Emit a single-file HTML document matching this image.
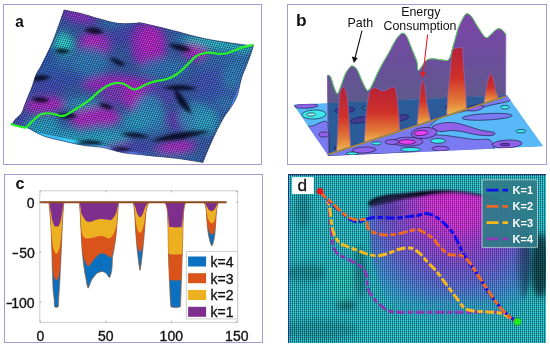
<!DOCTYPE html>
<html><head><meta charset="utf-8"><title>Figure</title>
<style>html,body{margin:0;padding:0;background:#fff;} svg{display:block;}</style></head>
<body><svg width="550" height="347" viewBox="0 0 550 347">
<defs>
<filter id="b3" x="-30%" y="-30%" width="160%" height="160%"><feGaussianBlur stdDeviation="3"/></filter><filter id="b25" x="-30%" y="-30%" width="160%" height="160%"><feGaussianBlur stdDeviation="2.2"/></filter>
<filter id="b2" x="-30%" y="-30%" width="160%" height="160%"><feGaussianBlur stdDeviation="1.6"/></filter><filter id="b35" x="-30%" y="-30%" width="160%" height="160%"><feGaussianBlur stdDeviation="3.6"/></filter><filter id="b12" x="-30%" y="-30%" width="160%" height="160%"><feGaussianBlur stdDeviation="1.1"/></filter>
<filter id="b6" x="-30%" y="-30%" width="160%" height="160%"><feGaussianBlur stdDeviation="6"/></filter>
<filter id="b1" x="-30%" y="-30%" width="160%" height="160%"><feGaussianBlur stdDeviation="0.8"/></filter>
<pattern id="meshA" width="2" height="2" patternUnits="userSpaceOnUse"><rect x="0" y="0" width="1" height="2" fill="#0a0a22" opacity="0.55"/><rect x="1" y="0" width="1" height="1" fill="#0a0a22" opacity="0.4"/></pattern>
<pattern id="meshD" width="2.5" height="2.2" patternUnits="userSpaceOnUse"><rect x="0" y="0" width="0.95" height="2.2" fill="#000" opacity="0.72"/><rect x="0.95" y="0" width="1.55" height="0.7" fill="#000" opacity="0.5"/></pattern>
</defs>
<rect x="3.5" y="4.5" width="258" height="160" fill="none" stroke="#a49ad6" stroke-width="1"/>
<clipPath id="cA"><path d="M64.0,10.0 C66.8,10.6 75.3,12.1 81.0,13.5 C86.7,14.9 91.8,16.8 98.0,18.4 C104.2,20.0 111.8,22.5 118.0,23.3 C124.2,24.1 131.3,23.4 135.0,23.3 C138.7,23.2 136.7,22.4 140.0,22.8 C143.3,23.2 148.5,24.5 155.0,26.0 C161.5,27.5 170.8,29.9 179.0,32.0 C187.2,34.1 195.8,36.8 204.0,38.5 C212.2,40.2 220.8,41.4 228.0,42.5 C235.2,43.6 243.2,44.7 247.5,45.1 C251.8,45.5 252.5,45.1 253.5,45.1 C253.2,46.3 252.3,49.7 251.5,52.2 C250.7,54.7 249.5,57.6 248.5,60.3 C247.5,63.0 246.4,65.8 245.4,68.3 C244.4,70.8 243.2,73.0 242.4,75.4 C241.6,77.8 241.2,79.2 240.4,82.5 C239.6,85.8 238.8,91.2 237.5,95.0 C236.2,98.8 234.8,101.2 232.5,105.0 C230.2,108.8 226.3,113.3 223.5,118.0 C220.7,122.7 218.3,127.7 215.7,133.0 C213.1,138.3 210.1,145.1 208.0,150.0 C205.9,154.9 203.8,160.4 203.0,162.5 C199.2,161.9 187.3,159.8 180.0,158.8 C172.7,157.8 165.6,157.3 159.0,156.6 C152.4,155.9 146.7,155.4 140.5,154.7 C134.3,154.0 128.2,153.8 122.0,152.6 C115.8,151.4 109.2,148.8 103.0,147.6 C96.8,146.4 90.7,146.6 84.5,145.6 C78.3,144.6 72.8,143.3 66.0,141.7 C59.2,140.1 50.3,138.5 43.5,136.0 C36.7,133.5 30.1,128.6 25.0,126.8 C19.9,125.0 15.2,125.4 13.0,125.0 C10.8,124.6 11.9,124.7 11.7,124.6 C12.3,123.7 14.0,120.9 15.6,119.0 C17.2,117.1 19.8,115.7 21.4,113.2 C23.0,110.7 23.8,107.1 25.0,104.1 C26.2,101.1 27.4,98.0 28.6,95.0 C29.8,92.0 31.1,89.2 32.3,85.9 C33.5,82.6 34.3,78.7 35.9,75.0 C37.5,71.3 39.4,69.2 42.0,64.0 C44.6,58.8 48.8,50.6 51.6,44.0 C54.4,37.4 56.9,30.3 59.0,24.6 C61.1,18.9 63.2,12.4 64.0,10.0Z"/></clipPath>
<g clip-path="url(#cA)">
<rect x="0" y="0" width="262" height="165" fill="#4c78d8"/>
<g filter="url(#b35)"><ellipse cx="78" cy="16" rx="20.0" ry="7.800000000000001" transform="rotate(15 78 16)" fill="#974bf5" opacity="0.9"/><ellipse cx="80" cy="15" rx="12.5" ry="5.2" transform="rotate(15 80 15)" fill="#bc4bfe" opacity="0.8"/><ellipse cx="115" cy="24" rx="12.5" ry="3.9000000000000004" transform="rotate(8 115 24)" fill="#44a9f5" opacity="0.9"/><ellipse cx="50" cy="62" rx="12.5" ry="20.8" transform="rotate(10 50 62)" fill="#44a0f5" opacity="0.85"/><ellipse cx="118" cy="24" rx="17.5" ry="5.2" transform="rotate(10 118 24)" fill="#4497ec" opacity="0.9"/><ellipse cx="64" cy="43" rx="9.375" ry="11.05" transform="rotate(-20 64 43)" fill="#38ffff" opacity="1"/><ellipse cx="63" cy="42" rx="5.0" ry="6.5" transform="rotate(-20 63 42)" fill="#4bffff" opacity="0.9"/><ellipse cx="95" cy="44" rx="16.25" ry="13.0" transform="rotate(10 95 44)" fill="#c642fe" opacity="0.95"/><ellipse cx="93" cy="42" rx="7.5" ry="6.5" transform="rotate(10 93 42)" fill="#f538ff" opacity="0.8"/><ellipse cx="120" cy="36" rx="12.5" ry="10.4" transform="rotate(0 120 36)" fill="#5e5eec" opacity="0.8"/><ellipse cx="48" cy="63" rx="12.5" ry="15.600000000000001" transform="rotate(0 48 63)" fill="#4471e2" opacity="0.8"/><ellipse cx="80" cy="62" rx="27.5" ry="9.1" transform="rotate(0 80 62)" fill="#4497ec" opacity="0.85"/><ellipse cx="75" cy="78" rx="31.25" ry="7.800000000000001" transform="rotate(0 75 78)" fill="#4b71ec" opacity="0.8"/><ellipse cx="110" cy="83" rx="27.5" ry="7.800000000000001" transform="rotate(-5 110 83)" fill="#cf38fe" opacity="0.95"/><ellipse cx="137" cy="31" rx="10.0" ry="10.4" transform="rotate(0 137 31)" fill="#714bec" opacity="0.8"/><ellipse cx="149" cy="46" rx="17.5" ry="23.400000000000002" transform="rotate(0 149 46)" fill="#cf38fe" opacity="0.95"/><ellipse cx="150" cy="42" rx="8.75" ry="13.0" transform="rotate(0 150 42)" fill="#f538ff" opacity="0.85"/><ellipse cx="182" cy="40" rx="10.0" ry="6.5" transform="rotate(10 182 40)" fill="#4497ec" opacity="0.85"/><ellipse cx="195" cy="52" rx="12.5" ry="7.800000000000001" transform="rotate(10 195 52)" fill="#e238fe" opacity="0.95"/><ellipse cx="220" cy="44" rx="37.5" ry="6.5" transform="rotate(10 220 44)" fill="#3decff" opacity="0.95"/><ellipse cx="165" cy="68" rx="25.0" ry="10.4" transform="rotate(0 165 68)" fill="#44a2f5" opacity="0.8"/><ellipse cx="225" cy="70" rx="27.5" ry="20.8" transform="rotate(0 225 70)" fill="#448fec" opacity="0.8"/><ellipse cx="218" cy="84" rx="27.5" ry="15.600000000000001" transform="rotate(0 218 84)" fill="#5e67ec" opacity="0.7"/><ellipse cx="232" cy="78" rx="10.0" ry="13.0" transform="rotate(0 232 78)" fill="#38c6f5" opacity="0.6"/><ellipse cx="240" cy="62" rx="7.5" ry="10.4" transform="rotate(0 240 62)" fill="#44a9ec" opacity="0.6"/><ellipse cx="140" cy="87" rx="15.0" ry="9.1" transform="rotate(0 140 87)" fill="#cf38fe" opacity="0.9"/><ellipse cx="45" cy="88" rx="18.75" ry="7.800000000000001" transform="rotate(0 45 88)" fill="#5e5eec" opacity="0.8"/><ellipse cx="45" cy="105" rx="21.25" ry="7.800000000000001" transform="rotate(-5 45 105)" fill="#e238fe" opacity="0.95"/><ellipse cx="82" cy="104" rx="20.0" ry="7.800000000000001" transform="rotate(0 82 104)" fill="#44a9f5" opacity="0.85"/><ellipse cx="82" cy="105" rx="12.5" ry="5.2" transform="rotate(0 82 105)" fill="#38c6f5" opacity="0.8"/><ellipse cx="115" cy="98" rx="15.0" ry="6.5" transform="rotate(0 115 98)" fill="#a94bf5" opacity="0.85"/><ellipse cx="22" cy="121" rx="11.25" ry="6.5" transform="rotate(0 22 121)" fill="#5e5eec" opacity="0.8"/><ellipse cx="95" cy="118" rx="25.0" ry="10.4" transform="rotate(-5 95 118)" fill="#e238fe" opacity="0.95"/><ellipse cx="50" cy="134" rx="31.25" ry="7.800000000000001" transform="rotate(0 50 134)" fill="#38cffe" opacity="0.85"/><ellipse cx="105" cy="132" rx="27.5" ry="7.800000000000001" transform="rotate(0 105 132)" fill="#44a9f5" opacity="0.8"/><ellipse cx="118" cy="144" rx="15.0" ry="6.5" transform="rotate(0 118 144)" fill="#a94bf5" opacity="0.85"/><ellipse cx="134" cy="96" rx="11.25" ry="14.3" transform="rotate(0 134 96)" fill="#e238fe" opacity="0.95"/><ellipse cx="160" cy="95" rx="17.5" ry="10.4" transform="rotate(0 160 95)" fill="#715eec" opacity="0.8"/><ellipse cx="215" cy="100" rx="20.0" ry="15.600000000000001" transform="rotate(0 215 100)" fill="#4b7aec" opacity="0.8"/><ellipse cx="225" cy="103" rx="10.0" ry="7.800000000000001" transform="rotate(0 225 103)" fill="#44a9ec" opacity="0.7"/><ellipse cx="145" cy="122" rx="25.0" ry="13.0" transform="rotate(0 145 122)" fill="#44a9f5" opacity="0.85"/><ellipse cx="137" cy="122" rx="12.5" ry="7.800000000000001" transform="rotate(0 137 122)" fill="#38cff5" opacity="0.8"/><ellipse cx="180" cy="120" rx="15.0" ry="10.4" transform="rotate(0 180 120)" fill="#844bec" opacity="0.85"/><ellipse cx="207" cy="122" rx="12.5" ry="13.0" transform="rotate(0 207 122)" fill="#38cff5" opacity="0.85"/><ellipse cx="176" cy="147" rx="20.0" ry="6.5" transform="rotate(-5 176 147)" fill="#e238fe" opacity="0.95"/><ellipse cx="140" cy="148" rx="15.0" ry="6.5" transform="rotate(0 140 148)" fill="#5e5eec" opacity="0.8"/><ellipse cx="165" cy="158" rx="37.5" ry="5.2" transform="rotate(0 165 158)" fill="#4497ec" opacity="0.7"/><ellipse cx="42" cy="124" rx="17.5" ry="7.800000000000001" transform="rotate(-10 42 124)" fill="#38d9fe" opacity="0.8"/><ellipse cx="95" cy="140" rx="35.0" ry="7.800000000000001" transform="rotate(-5 95 140)" fill="#38e2fe" opacity="0.8"/><ellipse cx="148" cy="110" rx="15.0" ry="15.600000000000001" transform="rotate(0 148 110)" fill="#42c6fe" opacity="0.75"/><ellipse cx="196" cy="118" rx="17.5" ry="15.600000000000001" transform="rotate(0 196 118)" fill="#42cffe" opacity="0.75"/><ellipse cx="90" cy="62" rx="17.5" ry="15.600000000000001" transform="rotate(0 90 62)" fill="#44a9f5" opacity="0.7"/></g>
<g filter="url(#b2)" opacity="0.8"><path d="M54,50.5 Q61.9,56.6 71,51 Q62.9,46.2 54,50.5Z" fill="#04041a"/><path d="M84,30 Q92.9,24.4 104,32 Q95.0,37.0 84,30Z" fill="#04041a"/><path d="M109,58 Q116.9,57.4 126,65 Q118.4,67.8 109,58Z" fill="#04041a"/><path d="M29,79 Q40.0,72.4 51,77 Q40.0,83.6 29,79Z" fill="#04041a"/><path d="M168,44 Q181.1,42.4 192,50 Q178.2,54.1 168,44Z" fill="#04041a"/><path d="M31,99 Q39.9,94.4 50,100 Q41.2,105.6 31,99Z" fill="#04041a"/><path d="M56,115 Q65.9,121.6 78,116 Q67.9,110.5 56,115Z" fill="#04041a"/><path d="M98,104 Q106.0,101.4 114,108 Q106.0,111.1 98,104Z" fill="#04041a"/><path d="M162,88 Q180.0,81.4 198,89 Q180.0,91.9 162,88Z" fill="#04041a"/><path d="M174,88 Q186.4,97.6 192,114 Q176.3,107.7 174,88Z" fill="#04041a"/><path d="M150,141 Q177.8,129.4 210,131 Q182.1,142.3 150,141Z" fill="#04041a"/><path d="M74,143 Q90.1,147.6 104,143 Q87.6,137.4 74,143Z" fill="#04041a"/><path d="M120,134 Q135.0,130.4 150,137 Q135.0,139.4 120,134Z" fill="#04041a"/><path d="M108,150 Q120.0,153.6 132,150 Q120.0,144.6 108,150Z" fill="#04041a"/></g>
<path d="M62.0,8.0L8.0,126.0M64.1,8.4L10.1,126.4M66.2,8.8L12.3,126.9M68.3,9.2L14.4,127.3M70.4,9.6L16.6,127.7M72.5,10.0L18.7,128.2M74.7,10.3L20.8,128.6M76.8,10.7L23.0,129.0M78.9,11.1L25.1,129.5M81.0,11.5L27.3,129.9M83.1,11.9L29.4,130.3M85.2,12.3L31.6,130.8M87.3,12.7L33.7,131.2M89.4,13.1L35.8,131.7M91.5,13.5L38.0,132.1M93.6,13.9L40.1,132.5M95.7,14.3L42.3,133.0M97.8,14.7L44.4,133.4M100.0,15.0L46.5,133.8M102.1,15.4L48.7,134.3M104.2,15.8L50.8,134.7M106.3,16.2L53.0,135.1M108.4,16.6L55.1,135.6M110.5,17.0L57.2,136.0M112.6,17.4L59.4,136.4M114.7,17.8L61.5,136.9M116.8,18.2L63.7,137.3M118.9,18.6L65.8,137.7M121.0,19.0L68.0,138.2M123.2,19.3L70.1,138.6M125.3,19.7L72.2,139.0M127.4,20.1L74.4,139.5M129.5,20.5L76.5,139.9M131.6,20.9L78.7,140.3M133.7,21.3L80.8,140.8M135.8,21.7L82.9,141.2M137.9,22.1L85.1,141.7M140.0,22.5L87.2,142.1M142.1,22.9L89.4,142.5M144.2,23.3L91.5,143.0M146.3,23.7L93.7,143.4M148.5,24.0L95.8,143.8M150.6,24.4L97.9,144.3M152.7,24.8L100.1,144.7M154.8,25.2L102.2,145.1M156.9,25.6L104.4,145.6M159.0,26.0L106.5,146.0M161.1,26.4L108.6,146.4M163.2,26.8L110.8,146.9M165.3,27.2L112.9,147.3M167.4,27.6L115.1,147.7M169.5,28.0L117.2,148.2M171.7,28.3L119.3,148.6M173.8,28.7L121.5,149.0M175.9,29.1L123.6,149.5M178.0,29.5L125.8,149.9M180.1,29.9L127.9,150.3M182.2,30.3L130.1,150.8M184.3,30.7L132.2,151.2M186.4,31.1L134.3,151.7M188.5,31.5L136.5,152.1M190.6,31.9L138.6,152.5M192.7,32.3L140.8,153.0M194.8,32.7L142.9,153.4M197.0,33.0L145.0,153.8M199.1,33.4L147.2,154.3M201.2,33.8L149.3,154.7M203.3,34.2L151.5,155.1M205.4,34.6L153.6,155.6M207.5,35.0L155.8,156.0M209.6,35.4L157.9,156.4M211.7,35.8L160.0,156.9M213.8,36.2L162.2,157.3M215.9,36.6L164.3,157.7M218.0,37.0L166.5,158.2M220.2,37.3L168.6,158.6M222.3,37.7L170.7,159.0M224.4,38.1L172.9,159.5M226.5,38.5L175.0,159.9M228.6,38.9L177.2,160.3M230.7,39.3L179.3,160.8M232.8,39.7L181.4,161.2M234.9,40.1L183.6,161.7M237.0,40.5L185.7,162.1M239.1,40.9L187.9,162.5M241.2,41.3L190.0,163.0M243.3,41.7L192.2,163.4M245.5,42.0L194.3,163.8M247.6,42.4L196.4,164.3M249.7,42.8L198.6,164.7M251.8,43.2L200.7,165.1M253.9,43.6L202.9,165.6M256.0,44.0L205.0,166.0" stroke="#000" stroke-width="0.8" opacity="0.55" fill="none"/>
<path d="M62.0,8.0L256.0,44.0M61.1,10.0L255.1,46.0M60.2,11.9L254.3,48.1M59.3,13.9L253.4,50.1M58.4,15.9L252.6,52.1M57.5,17.8L251.8,54.2M56.6,19.8L250.9,56.2M55.7,21.8L250.0,58.2M54.8,23.7L249.2,60.3M53.9,25.7L248.3,62.3M53.0,27.7L247.5,64.3M52.1,29.6L246.6,66.4M51.2,31.6L245.8,68.4M50.3,33.6L244.9,70.4M49.4,35.5L244.1,72.5M48.5,37.5L243.2,74.5M47.6,39.5L242.4,76.5M46.7,41.4L241.6,78.6M45.8,43.4L240.7,80.6M44.9,45.4L239.8,82.6M44.0,47.3L239.0,84.7M43.1,49.3L238.2,86.7M42.2,51.3L237.3,88.7M41.3,53.2L236.5,90.8M40.4,55.2L235.6,92.8M39.5,57.2L234.8,94.8M38.6,59.1L233.9,96.9M37.7,61.1L233.1,98.9M36.8,63.1L232.2,100.9M35.9,65.0L231.3,103.0M35.0,67.0L230.5,105.0M34.1,69.0L229.6,107.0M33.2,70.9L228.8,109.1M32.3,72.9L227.9,111.1M31.4,74.9L227.1,113.1M30.5,76.8L226.2,115.2M29.6,78.8L225.4,117.2M28.7,80.8L224.6,119.2M27.8,82.7L223.7,121.3M26.9,84.7L222.8,123.3M26.0,86.7L222.0,125.3M25.1,88.6L221.2,127.4M24.2,90.6L220.3,129.4M23.3,92.6L219.4,131.4M22.4,94.5L218.6,133.5M21.5,96.5L217.8,135.5M20.6,98.5L216.9,137.5M19.7,100.4L216.1,139.6M18.8,102.4L215.2,141.6M17.9,104.4L214.3,143.6M17.0,106.3L213.5,145.7M16.1,108.3L212.7,147.7M15.2,110.3L211.8,149.7M14.3,112.2L210.9,151.8M13.4,114.2L210.1,153.8M12.5,116.2L209.2,155.8M11.6,118.1L208.4,157.9M10.7,120.1L207.6,159.9M9.8,122.1L206.7,161.9M8.9,124.0L205.8,164.0M8.0,126.0L205.0,166.0" stroke="#000" stroke-width="0.8" opacity="0.45" fill="none"/>
</g>
<path d="M64.0,10.0 C66.8,10.6 75.3,12.1 81.0,13.5 C86.7,14.9 91.8,16.8 98.0,18.4 C104.2,20.0 111.8,22.5 118.0,23.3 C124.2,24.1 131.3,23.4 135.0,23.3 C138.7,23.2 136.7,22.4 140.0,22.8 C143.3,23.2 148.5,24.5 155.0,26.0 C161.5,27.5 170.8,29.9 179.0,32.0 C187.2,34.1 195.8,36.8 204.0,38.5 C212.2,40.2 220.8,41.4 228.0,42.5 C235.2,43.6 243.2,44.7 247.5,45.1 C251.8,45.5 252.5,45.1 253.5,45.1 C253.2,46.3 252.3,49.7 251.5,52.2 C250.7,54.7 249.5,57.6 248.5,60.3 C247.5,63.0 246.4,65.8 245.4,68.3 C244.4,70.8 243.2,73.0 242.4,75.4 C241.6,77.8 241.2,79.2 240.4,82.5 C239.6,85.8 238.8,91.2 237.5,95.0 C236.2,98.8 234.8,101.2 232.5,105.0 C230.2,108.8 226.3,113.3 223.5,118.0 C220.7,122.7 218.3,127.7 215.7,133.0 C213.1,138.3 210.1,145.1 208.0,150.0 C205.9,154.9 203.8,160.4 203.0,162.5 C199.2,161.9 187.3,159.8 180.0,158.8 C172.7,157.8 165.6,157.3 159.0,156.6 C152.4,155.9 146.7,155.4 140.5,154.7 C134.3,154.0 128.2,153.8 122.0,152.6 C115.8,151.4 109.2,148.8 103.0,147.6 C96.8,146.4 90.7,146.6 84.5,145.6 C78.3,144.6 72.8,143.3 66.0,141.7 C59.2,140.1 50.3,138.5 43.5,136.0 C36.7,133.5 30.1,128.6 25.0,126.8 C19.9,125.0 15.2,125.4 13.0,125.0 C10.8,124.6 11.9,124.7 11.7,124.6 C12.3,123.7 14.0,120.9 15.6,119.0 C17.2,117.1 19.8,115.7 21.4,113.2 C23.0,110.7 23.8,107.1 25.0,104.1 C26.2,101.1 27.4,98.0 28.6,95.0 C29.8,92.0 31.1,89.2 32.3,85.9 C33.5,82.6 34.3,78.7 35.9,75.0 C37.5,71.3 39.4,69.2 42.0,64.0 C44.6,58.8 48.8,50.6 51.6,44.0 C54.4,37.4 56.9,30.3 59.0,24.6 C61.1,18.9 63.2,12.4 64.0,10.0Z" fill="none" stroke="#14143a" stroke-width="0.7" opacity="0.7"/>
<path d="M11.4,124.1 C12.2,124.3 14.2,125.0 15.9,125.5 C17.6,126.0 19.7,126.5 21.4,126.8 C23.1,127.1 24.4,128.0 25.9,127.4 C27.4,126.8 29.0,124.7 30.5,123.2 C32.0,121.7 33.5,120.0 35.0,118.6 C36.5,117.2 38.0,115.8 39.5,115.0 C41.0,114.2 42.3,113.8 44.1,113.5 C45.9,113.2 48.5,113.3 50.5,113.5 C52.5,113.7 54.2,114.2 55.9,114.6 C57.6,115.0 59.0,115.8 60.5,115.9 C62.0,116.0 63.3,116.0 65.0,115.4 C66.7,114.8 68.4,113.6 70.5,112.3 C72.6,111.0 75.3,109.2 77.7,107.7 C80.1,106.2 82.6,104.9 85.0,103.2 C87.4,101.5 90.6,99.1 92.3,97.7 C94.0,96.3 93.5,96.3 95.0,95.0 C96.5,93.7 99.0,91.5 101.0,90.0 C103.0,88.5 105.0,87.1 107.0,86.0 C109.0,84.9 111.0,84.1 113.0,83.6 C115.0,83.1 117.2,82.9 119.0,83.0 C120.8,83.1 122.3,83.3 124.0,84.0 C125.7,84.7 127.3,86.1 129.0,87.0 C130.7,87.9 132.3,89.2 134.0,89.4 C135.7,89.6 136.8,88.9 139.0,88.0 C141.2,87.1 144.3,85.1 147.0,84.0 C149.7,82.9 152.3,82.1 155.0,81.4 C157.7,80.7 160.3,80.7 163.0,80.0 C165.7,79.3 168.7,78.4 171.0,77.4 C173.3,76.4 175.0,75.4 177.0,74.0 C179.0,72.6 181.0,70.8 183.0,69.0 C185.0,67.2 187.0,65.0 189.0,63.0 C191.0,61.0 193.0,58.5 195.0,57.0 C197.0,55.5 198.3,54.7 201.0,54.0 C203.7,53.3 208.0,52.6 211.0,52.6 C214.0,52.6 216.3,53.7 219.0,53.8 C221.7,53.9 224.3,53.8 227.0,53.2 C229.7,52.6 232.3,51.2 235.0,50.2 C237.7,49.2 240.1,48.0 243.0,47.1 C245.9,46.2 250.9,45.4 252.5,45.1" fill="none" stroke="#28f028" stroke-width="2.2" stroke-linecap="round" stroke-linejoin="round"/>
<text transform="translate(15.2 26.9) scale(0.9 1)" font-family="Liberation Sans, sans-serif" font-weight="bold" font-size="17" fill="#111">a</text>
<rect x="287.5" y="4.5" width="259" height="160" fill="none" stroke="#a49ad6" stroke-width="1"/>
<clipPath id="cF"><path d="M293.0,104.5 L507.0,95.2 L543.6,146.5 L328.5,156.0Z"/></clipPath>
<g clip-path="url(#cF)"><path d="M293.0,104.5 L507.0,95.2 L543.6,146.5 L328.5,156.0Z" fill="#58b8f8"/><path d="M328.2,154.0 C346.1,147.9 488.9,100.8 507.0,95.5 C525.1,90.2 510.3,100.1 509.0,101.0 C507.7,101.9 497.6,103.7 494.0,104.5 C490.4,105.3 477.2,108.5 473.0,109.5 C468.8,110.5 455.5,113.0 452.0,114.0 C448.5,115.0 440.1,117.9 438.0,119.0 C435.9,120.1 432.2,123.8 431.0,125.0 C429.8,126.2 425.9,130.1 426.0,131.0 C426.1,131.9 430.0,134.1 432.0,134.5 C434.0,134.9 443.2,135.2 446.0,135.5 C448.8,135.8 457.1,137.1 460.0,137.5 C462.9,137.9 472.1,139.3 475.0,139.5 C477.9,139.7 487.2,138.9 489.0,139.5 C490.8,140.1 493.1,143.8 493.0,145.0 C492.9,146.2 497.3,150.2 488.0,151.0 C478.7,151.8 416.0,152.5 400.0,153.0 C384.0,153.5 335.2,155.9 328.0,156.0 C320.8,156.1 310.3,160.1 328.2,154.0Z" fill="#7a7af2" stroke="#14142e" stroke-width="0.6"/><path d="M296.0,127.0 C296.6,126.0 308.9,126.5 312.0,126.0 C315.1,125.5 325.3,119.0 327.0,122.0 C328.7,125.0 329.9,153.6 329.0,156.0 C328.1,158.4 320.3,148.0 318.0,146.0 C315.7,144.0 308.2,137.9 306.0,136.0 C303.8,134.1 295.4,128.0 296.0,127.0Z" fill="#7a7af2" stroke="#14142e" stroke-width="0.6"/><ellipse cx="487" cy="116.8" rx="25" ry="3.2" transform="rotate(-3 487 116.8)" fill="#7a7af2" stroke="#14142e" stroke-width="0.6"/><path d="M432.0,127.0 C432.0,125.7 436.7,124.2 440.0,123.5 C443.3,122.8 447.7,122.2 452.0,122.5 C456.3,122.8 461.3,124.2 466.0,125.5 C470.7,126.8 475.3,128.8 480.0,130.0 C484.7,131.2 492.0,131.6 494.0,132.5 C496.0,133.4 494.7,135.1 492.0,135.5 C489.3,135.9 482.7,135.6 478.0,135.0 C473.3,134.4 468.3,132.8 464.0,132.0 C459.7,131.2 456.0,130.6 452.0,130.5 C448.0,130.4 443.3,132.1 440.0,131.5 C436.7,130.9 432.0,128.3 432.0,127.0Z" fill="#9062ea" stroke="#14142e" stroke-width="0.6"/><ellipse cx="475" cy="108" rx="8.5" ry="2.8" transform="rotate(-8 475 108)" fill="#9062ea" stroke="#14142e" stroke-width="0.6"/><ellipse cx="424" cy="133" rx="13" ry="5.5" transform="rotate(-5 424 133)" fill="#9062ea" stroke="#14142e" stroke-width="0.6"/><ellipse cx="421" cy="133" rx="7" ry="2.6" transform="rotate(-5 421 133)" fill="#ea3cf2" stroke="#14142e" stroke-width="0.6"/><ellipse cx="408" cy="141.7" rx="15" ry="4.5" transform="rotate(0 408 141.7)" fill="#9062ea" stroke="#14142e" stroke-width="0.6"/><ellipse cx="407" cy="142" rx="8.5" ry="2.3" transform="rotate(0 407 142)" fill="#ea3cf2" stroke="#14142e" stroke-width="0.6"/><ellipse cx="440.5" cy="148.6" rx="8.5" ry="2.4" transform="rotate(0 440.5 148.6)" fill="#9062ea" stroke="#14142e" stroke-width="0.6"/><ellipse cx="507" cy="144" rx="15" ry="4" transform="rotate(-3 507 144)" fill="#9062ea" stroke="#14142e" stroke-width="0.6"/><ellipse cx="505" cy="144.5" rx="5" ry="1.3" transform="rotate(0 505 144.5)" fill="#6a36c0" stroke="#14142e" stroke-width="0.6"/><ellipse cx="306" cy="106" rx="12" ry="2.2" transform="rotate(-2 306 106)" fill="#9062ea" stroke="#14142e" stroke-width="0.6"/><ellipse cx="324" cy="134.5" rx="5" ry="2.5" transform="rotate(0 324 134.5)" fill="#9062ea" stroke="#14142e" stroke-width="0.6"/><ellipse cx="364" cy="150" rx="12" ry="3" transform="rotate(-3 364 150)" fill="#9062ea" stroke="#14142e" stroke-width="0.6"/><ellipse cx="314" cy="114.5" rx="12" ry="4.5" transform="rotate(-2 314 114.5)" fill="#3ce8ea" stroke="#14142e" stroke-width="0.6"/><ellipse cx="311" cy="114.5" rx="4.5" ry="1.6" transform="rotate(-2 311 114.5)" fill="#9ef6f6" stroke="#14142e" stroke-width="0.6"/><ellipse cx="505" cy="107.2" rx="4.3" ry="1.9" transform="rotate(0 505 107.2)" fill="#3ce8ea" stroke="#14142e" stroke-width="0.6"/><ellipse cx="521" cy="131.2" rx="5.2" ry="1.7" transform="rotate(0 521 131.2)" fill="#3ce8ea" stroke="#14142e" stroke-width="0.6"/><ellipse cx="438" cy="140.9" rx="7.5" ry="2.4" transform="rotate(0 438 140.9)" fill="#3ce8ea" stroke="#14142e" stroke-width="0.6"/><ellipse cx="410.5" cy="149.5" rx="10" ry="2.1" transform="rotate(0 410.5 149.5)" fill="#3ce8ea" stroke="#14142e" stroke-width="0.6"/><ellipse cx="376.5" cy="143.4" rx="5" ry="1.6" transform="rotate(0 376.5 143.4)" fill="#3ce8ea" stroke="#14142e" stroke-width="0.6"/><ellipse cx="392" cy="142" rx="7" ry="2.5" transform="rotate(0 392 142)" fill="#9062ea" stroke="#14142e" stroke-width="0.6"/><ellipse cx="352" cy="153.5" rx="6" ry="1.5" transform="rotate(0 352 153.5)" fill="#3ce8ea" stroke="#14142e" stroke-width="0.6"/><ellipse cx="340" cy="148" rx="6" ry="2" transform="rotate(0 340 148)" fill="#9062ea" stroke="#14142e" stroke-width="0.6"/><ellipse cx="380" cy="128" rx="12" ry="3.5" transform="rotate(-10 380 128)" fill="#9062ea" stroke="#14142e" stroke-width="0.6"/><ellipse cx="360" cy="120" rx="10" ry="3" transform="rotate(-10 360 120)" fill="#9062ea" stroke="#14142e" stroke-width="0.6"/><ellipse cx="400" cy="118" rx="9" ry="3" transform="rotate(-10 400 118)" fill="#9062ea" stroke="#14142e" stroke-width="0.6"/><ellipse cx="455" cy="106" rx="10" ry="2.5" transform="rotate(-8 455 106)" fill="#9062ea" stroke="#14142e" stroke-width="0.6"/><ellipse cx="345" cy="110" rx="10" ry="3" transform="rotate(-5 345 110)" fill="#9062ea" stroke="#14142e" stroke-width="0.6"/><ellipse cx="370" cy="108" rx="8" ry="2.5" transform="rotate(0 370 108)" fill="#3ce8ea" stroke="#14142e" stroke-width="0.6"/></g>
<linearGradient id="gW" x1="0" y1="13" x2="0" y2="110" gradientUnits="userSpaceOnUse"><stop offset="0" stop-color="#7d44a8"/><stop offset="0.45" stop-color="#6c4d9c"/><stop offset="1" stop-color="#5a5c88"/></linearGradient>
<path d="M327.4,75.3 C327.9,75.5 329.3,74.6 330.4,76.5 C331.5,78.4 332.6,83.9 333.8,86.8 C335.0,89.7 336.2,93.7 337.3,93.7 C338.4,93.7 339.4,90.1 340.7,86.8 C342.0,83.5 343.8,77.4 345.3,74.1 C346.9,70.8 348.8,68.5 350.0,67.2 C351.2,65.9 351.6,65.7 352.7,66.1 C353.8,66.5 355.4,67.2 356.9,69.5 C358.4,71.8 360.0,76.6 361.5,79.9 C363.0,83.2 365.0,87.4 366.1,89.1 C367.2,90.8 367.4,90.9 368.4,90.3 C369.3,89.7 369.9,89.3 371.8,85.7 C373.7,82.1 377.0,74.0 379.9,68.4 C382.8,62.8 386.4,57.1 389.1,52.3 C391.8,47.5 393.9,42.8 396.0,39.6 C398.1,36.5 400.1,34.0 401.8,33.4 C403.5,32.8 404.7,33.3 406.4,36.1 C408.1,38.9 410.5,45.8 412.2,50.0 C413.9,54.2 415.8,58.1 416.8,61.5 C417.8,64.9 417.3,69.5 418.1,70.4 C418.9,71.3 420.1,68.6 421.5,66.9 C422.9,65.2 424.3,61.9 426.2,60.5 C428.1,59.1 430.4,58.9 433.1,58.8 C435.8,58.7 439.6,60.0 442.3,60.0 C445.0,60.0 447.3,61.7 449.2,59.0 C451.1,56.3 452.2,49.0 453.8,43.8 C455.4,38.6 456.8,32.3 458.5,27.7 C460.2,23.1 462.8,18.5 464.2,16.2 C465.6,13.9 466.0,13.8 467.2,13.8 C468.4,13.8 469.6,14.3 471.2,16.2 C472.8,18.1 474.8,22.1 476.9,25.4 C479.0,28.7 482.1,33.8 483.8,35.8 C485.5,37.8 486.0,38.0 487.3,37.6 C488.6,37.2 490.4,34.9 491.9,33.5 C493.4,32.1 495.1,30.3 496.5,29.5 C497.9,28.7 498.8,28.5 500.0,28.8 C501.2,29.1 502.5,30.2 503.5,31.2 C504.5,32.2 505.4,34.0 505.8,34.6 L505.6,96 L328.2,154 Z" fill="url(#gW)"/>
<clipPath id="cW"><path d="M327.4,75.3 C327.9,75.5 329.3,74.6 330.4,76.5 C331.5,78.4 332.6,83.9 333.8,86.8 C335.0,89.7 336.2,93.7 337.3,93.7 C338.4,93.7 339.4,90.1 340.7,86.8 C342.0,83.5 343.8,77.4 345.3,74.1 C346.9,70.8 348.8,68.5 350.0,67.2 C351.2,65.9 351.6,65.7 352.7,66.1 C353.8,66.5 355.4,67.2 356.9,69.5 C358.4,71.8 360.0,76.6 361.5,79.9 C363.0,83.2 365.0,87.4 366.1,89.1 C367.2,90.8 367.4,90.9 368.4,90.3 C369.3,89.7 369.9,89.3 371.8,85.7 C373.7,82.1 377.0,74.0 379.9,68.4 C382.8,62.8 386.4,57.1 389.1,52.3 C391.8,47.5 393.9,42.8 396.0,39.6 C398.1,36.5 400.1,34.0 401.8,33.4 C403.5,32.8 404.7,33.3 406.4,36.1 C408.1,38.9 410.5,45.8 412.2,50.0 C413.9,54.2 415.8,58.1 416.8,61.5 C417.8,64.9 417.3,69.5 418.1,70.4 C418.9,71.3 420.1,68.6 421.5,66.9 C422.9,65.2 424.3,61.9 426.2,60.5 C428.1,59.1 430.4,58.9 433.1,58.8 C435.8,58.7 439.6,60.0 442.3,60.0 C445.0,60.0 447.3,61.7 449.2,59.0 C451.1,56.3 452.2,49.0 453.8,43.8 C455.4,38.6 456.8,32.3 458.5,27.7 C460.2,23.1 462.8,18.5 464.2,16.2 C465.6,13.9 466.0,13.8 467.2,13.8 C468.4,13.8 469.6,14.3 471.2,16.2 C472.8,18.1 474.8,22.1 476.9,25.4 C479.0,28.7 482.1,33.8 483.8,35.8 C485.5,37.8 486.0,38.0 487.3,37.6 C488.6,37.2 490.4,34.9 491.9,33.5 C493.4,32.1 495.1,30.3 496.5,29.5 C497.9,28.7 498.8,28.5 500.0,28.8 C501.2,29.1 502.5,30.2 503.5,31.2 C504.5,32.2 505.4,34.0 505.8,34.6 L505.6,96 L328.2,154 Z"/></clipPath>
<g clip-path="url(#cW)"><g clip-path="url(#cF)"><path d="M293.0,104.5 L507.0,95.2 L543.6,146.5 L328.5,156.0Z" fill="#58b8f8"/><path d="M328.2,154.0 C346.1,147.9 488.9,100.8 507.0,95.5 C525.1,90.2 510.3,100.1 509.0,101.0 C507.7,101.9 497.6,103.7 494.0,104.5 C490.4,105.3 477.2,108.5 473.0,109.5 C468.8,110.5 455.5,113.0 452.0,114.0 C448.5,115.0 440.1,117.9 438.0,119.0 C435.9,120.1 432.2,123.8 431.0,125.0 C429.8,126.2 425.9,130.1 426.0,131.0 C426.1,131.9 430.0,134.1 432.0,134.5 C434.0,134.9 443.2,135.2 446.0,135.5 C448.8,135.8 457.1,137.1 460.0,137.5 C462.9,137.9 472.1,139.3 475.0,139.5 C477.9,139.7 487.2,138.9 489.0,139.5 C490.8,140.1 493.1,143.8 493.0,145.0 C492.9,146.2 497.3,150.2 488.0,151.0 C478.7,151.8 416.0,152.5 400.0,153.0 C384.0,153.5 335.2,155.9 328.0,156.0 C320.8,156.1 310.3,160.1 328.2,154.0Z" fill="#7a7af2" stroke="#14142e" stroke-width="0.6"/><path d="M296.0,127.0 C296.6,126.0 308.9,126.5 312.0,126.0 C315.1,125.5 325.3,119.0 327.0,122.0 C328.7,125.0 329.9,153.6 329.0,156.0 C328.1,158.4 320.3,148.0 318.0,146.0 C315.7,144.0 308.2,137.9 306.0,136.0 C303.8,134.1 295.4,128.0 296.0,127.0Z" fill="#7a7af2" stroke="#14142e" stroke-width="0.6"/><ellipse cx="487" cy="116.8" rx="25" ry="3.2" transform="rotate(-3 487 116.8)" fill="#7a7af2" stroke="#14142e" stroke-width="0.6"/><path d="M432.0,127.0 C432.0,125.7 436.7,124.2 440.0,123.5 C443.3,122.8 447.7,122.2 452.0,122.5 C456.3,122.8 461.3,124.2 466.0,125.5 C470.7,126.8 475.3,128.8 480.0,130.0 C484.7,131.2 492.0,131.6 494.0,132.5 C496.0,133.4 494.7,135.1 492.0,135.5 C489.3,135.9 482.7,135.6 478.0,135.0 C473.3,134.4 468.3,132.8 464.0,132.0 C459.7,131.2 456.0,130.6 452.0,130.5 C448.0,130.4 443.3,132.1 440.0,131.5 C436.7,130.9 432.0,128.3 432.0,127.0Z" fill="#9062ea" stroke="#14142e" stroke-width="0.6"/><ellipse cx="475" cy="108" rx="8.5" ry="2.8" transform="rotate(-8 475 108)" fill="#9062ea" stroke="#14142e" stroke-width="0.6"/><ellipse cx="424" cy="133" rx="13" ry="5.5" transform="rotate(-5 424 133)" fill="#9062ea" stroke="#14142e" stroke-width="0.6"/><ellipse cx="421" cy="133" rx="7" ry="2.6" transform="rotate(-5 421 133)" fill="#ea3cf2" stroke="#14142e" stroke-width="0.6"/><ellipse cx="408" cy="141.7" rx="15" ry="4.5" transform="rotate(0 408 141.7)" fill="#9062ea" stroke="#14142e" stroke-width="0.6"/><ellipse cx="407" cy="142" rx="8.5" ry="2.3" transform="rotate(0 407 142)" fill="#ea3cf2" stroke="#14142e" stroke-width="0.6"/><ellipse cx="440.5" cy="148.6" rx="8.5" ry="2.4" transform="rotate(0 440.5 148.6)" fill="#9062ea" stroke="#14142e" stroke-width="0.6"/><ellipse cx="507" cy="144" rx="15" ry="4" transform="rotate(-3 507 144)" fill="#9062ea" stroke="#14142e" stroke-width="0.6"/><ellipse cx="505" cy="144.5" rx="5" ry="1.3" transform="rotate(0 505 144.5)" fill="#6a36c0" stroke="#14142e" stroke-width="0.6"/><ellipse cx="306" cy="106" rx="12" ry="2.2" transform="rotate(-2 306 106)" fill="#9062ea" stroke="#14142e" stroke-width="0.6"/><ellipse cx="324" cy="134.5" rx="5" ry="2.5" transform="rotate(0 324 134.5)" fill="#9062ea" stroke="#14142e" stroke-width="0.6"/><ellipse cx="364" cy="150" rx="12" ry="3" transform="rotate(-3 364 150)" fill="#9062ea" stroke="#14142e" stroke-width="0.6"/><ellipse cx="314" cy="114.5" rx="12" ry="4.5" transform="rotate(-2 314 114.5)" fill="#3ce8ea" stroke="#14142e" stroke-width="0.6"/><ellipse cx="311" cy="114.5" rx="4.5" ry="1.6" transform="rotate(-2 311 114.5)" fill="#9ef6f6" stroke="#14142e" stroke-width="0.6"/><ellipse cx="505" cy="107.2" rx="4.3" ry="1.9" transform="rotate(0 505 107.2)" fill="#3ce8ea" stroke="#14142e" stroke-width="0.6"/><ellipse cx="521" cy="131.2" rx="5.2" ry="1.7" transform="rotate(0 521 131.2)" fill="#3ce8ea" stroke="#14142e" stroke-width="0.6"/><ellipse cx="438" cy="140.9" rx="7.5" ry="2.4" transform="rotate(0 438 140.9)" fill="#3ce8ea" stroke="#14142e" stroke-width="0.6"/><ellipse cx="410.5" cy="149.5" rx="10" ry="2.1" transform="rotate(0 410.5 149.5)" fill="#3ce8ea" stroke="#14142e" stroke-width="0.6"/><ellipse cx="376.5" cy="143.4" rx="5" ry="1.6" transform="rotate(0 376.5 143.4)" fill="#3ce8ea" stroke="#14142e" stroke-width="0.6"/><ellipse cx="392" cy="142" rx="7" ry="2.5" transform="rotate(0 392 142)" fill="#9062ea" stroke="#14142e" stroke-width="0.6"/><ellipse cx="352" cy="153.5" rx="6" ry="1.5" transform="rotate(0 352 153.5)" fill="#3ce8ea" stroke="#14142e" stroke-width="0.6"/><ellipse cx="340" cy="148" rx="6" ry="2" transform="rotate(0 340 148)" fill="#9062ea" stroke="#14142e" stroke-width="0.6"/><ellipse cx="380" cy="128" rx="12" ry="3.5" transform="rotate(-10 380 128)" fill="#9062ea" stroke="#14142e" stroke-width="0.6"/><ellipse cx="360" cy="120" rx="10" ry="3" transform="rotate(-10 360 120)" fill="#9062ea" stroke="#14142e" stroke-width="0.6"/><ellipse cx="400" cy="118" rx="9" ry="3" transform="rotate(-10 400 118)" fill="#9062ea" stroke="#14142e" stroke-width="0.6"/><ellipse cx="455" cy="106" rx="10" ry="2.5" transform="rotate(-8 455 106)" fill="#9062ea" stroke="#14142e" stroke-width="0.6"/><ellipse cx="345" cy="110" rx="10" ry="3" transform="rotate(-5 345 110)" fill="#9062ea" stroke="#14142e" stroke-width="0.6"/><ellipse cx="370" cy="108" rx="8" ry="2.5" transform="rotate(0 370 108)" fill="#3ce8ea" stroke="#14142e" stroke-width="0.6"/><path d="M293.0,104.5 L507.0,95.2 L543.6,146.5 L328.5,156.0Z" fill="#10225e" opacity="0.62"/></g></g>
<linearGradient id="gR" x1="0" y1="0" x2="0" y2="1"><stop offset="0" stop-color="#b42236"/><stop offset="0.45" stop-color="#d0302a"/><stop offset="0.8" stop-color="#e4803a"/><stop offset="1" stop-color="#f2c452"/></linearGradient>
<path d="M336.3,152.4 C336.4,150.7 336.8,147.5 337.1,142.5 C337.4,137.5 337.8,129.0 338.1,122.3 C338.4,115.6 338.7,107.3 339.1,102.2 C339.5,97.1 339.6,94.0 340.3,91.5 C341.0,89.0 342.2,87.0 343.1,87.0 C344.0,87.0 345.1,89.0 345.9,91.5 C346.7,94.0 347.2,97.1 347.8,102.2 C348.4,107.3 348.8,115.9 349.2,122.3 C349.6,128.7 349.9,136.3 350.2,140.5 C350.5,144.7 350.7,146.4 350.8,147.6 Z" fill="url(#gR)" stroke="#8a62b4" stroke-width="0.8"/>
<path d="M364.2,143.2 C364.3,141.4 364.5,137.6 364.9,132.4 C365.2,127.2 365.7,117.9 366.3,112.2 C366.9,106.5 367.6,101.7 368.3,98.0 C369.0,94.3 369.3,91.7 370.5,90.0 C371.7,88.3 373.2,87.6 375.4,87.8 C377.5,88.0 380.5,91.1 383.4,91.0 C386.2,90.9 390.5,87.3 392.5,87.0 C394.5,86.7 394.8,87.7 395.5,89.0 C396.2,90.3 396.3,91.1 396.8,95.0 C397.3,98.9 398.1,106.6 398.6,112.2 C399.1,117.8 399.4,125.2 399.6,128.4 C399.8,131.6 399.9,131.0 400.0,131.5 Z" fill="url(#gR)" stroke="#8a62b4" stroke-width="0.8"/>
<path d="M417.2,125.9 C417.2,125.0 417.2,123.9 417.5,120.4 C417.8,116.9 418.4,110.4 419.0,104.8 C419.6,99.2 420.2,90.8 420.8,86.7 C421.4,82.6 422.1,80.2 422.7,80.2 C423.3,80.2 423.9,82.6 424.7,86.7 C425.5,90.8 426.4,99.6 427.3,104.8 C428.2,110.0 429.4,115.0 430.0,117.8 C430.6,120.6 430.5,120.9 430.6,121.5 Z" fill="url(#gR)" stroke="#8a62b4" stroke-width="0.8"/>
<path d="M446.7,116.3 C446.7,115.4 446.6,115.4 446.8,111.3 C447.0,107.2 447.5,99.3 448.1,91.8 C448.8,84.2 450.1,72.9 450.7,66.0 C451.3,59.1 451.5,53.3 452.0,50.4 C452.5,47.5 452.1,49.3 453.6,48.8 C455.1,48.3 459.5,47.3 461.0,47.3 C462.5,47.3 462.1,45.9 462.5,49.0 C462.9,52.1 463.1,58.9 463.6,66.0 C464.1,73.1 465.3,85.5 465.7,91.8 C466.1,98.0 466.1,100.5 466.2,103.5 C466.3,106.5 466.4,108.8 466.4,109.8 Z" fill="url(#gR)" stroke="#8a62b4" stroke-width="0.8"/>
<path d="M484.2,104.0 C484.2,103.3 484.2,101.6 484.4,99.6 C484.6,97.6 485.0,95.2 485.6,91.8 C486.2,88.3 487.3,81.9 488.2,78.9 C489.1,75.9 489.9,73.7 490.8,73.7 C491.7,73.7 492.5,75.9 493.4,78.9 C494.3,81.9 495.3,89.0 496.0,91.8 C496.7,94.6 497.4,94.4 497.8,95.7 C498.2,97.0 498.1,98.8 498.2,99.4 Z" fill="url(#gR)" stroke="#8a62b4" stroke-width="0.8"/>
<path d="M327.4,75.3 C327.9,75.5 329.3,74.6 330.4,76.5 C331.5,78.4 332.6,83.9 333.8,86.8 C335.0,89.7 336.2,93.7 337.3,93.7 C338.4,93.7 339.4,90.1 340.7,86.8 C342.0,83.5 343.8,77.4 345.3,74.1 C346.9,70.8 348.8,68.5 350.0,67.2 C351.2,65.9 351.6,65.7 352.7,66.1 C353.8,66.5 355.4,67.2 356.9,69.5 C358.4,71.8 360.0,76.6 361.5,79.9 C363.0,83.2 365.0,87.4 366.1,89.1 C367.2,90.8 367.4,90.9 368.4,90.3 C369.3,89.7 369.9,89.3 371.8,85.7 C373.7,82.1 377.0,74.0 379.9,68.4 C382.8,62.8 386.4,57.1 389.1,52.3 C391.8,47.5 393.9,42.8 396.0,39.6 C398.1,36.5 400.1,34.0 401.8,33.4 C403.5,32.8 404.7,33.3 406.4,36.1 C408.1,38.9 410.5,45.8 412.2,50.0 C413.9,54.2 415.8,58.1 416.8,61.5 C417.8,64.9 417.3,69.5 418.1,70.4 C418.9,71.3 420.1,68.6 421.5,66.9 C422.9,65.2 424.3,61.9 426.2,60.5 C428.1,59.1 430.4,58.9 433.1,58.8 C435.8,58.7 439.6,60.0 442.3,60.0 C445.0,60.0 447.3,61.7 449.2,59.0 C451.1,56.3 452.2,49.0 453.8,43.8 C455.4,38.6 456.8,32.3 458.5,27.7 C460.2,23.1 462.8,18.5 464.2,16.2 C465.6,13.9 466.0,13.8 467.2,13.8 C468.4,13.8 469.6,14.3 471.2,16.2 C472.8,18.1 474.8,22.1 476.9,25.4 C479.0,28.7 482.1,33.8 483.8,35.8 C485.5,37.8 486.0,38.0 487.3,37.6 C488.6,37.2 490.4,34.9 491.9,33.5 C493.4,32.1 495.1,30.3 496.5,29.5 C497.9,28.7 498.8,28.5 500.0,28.8 C501.2,29.1 502.5,30.2 503.5,31.2 C504.5,32.2 505.4,34.0 505.8,34.6 L505.6,96 L328.2,154 Z" fill="none" stroke="#8a62b4" stroke-width="0.9"/>
<path d="M327.4,75.3 C327.9,75.5 329.3,74.6 330.4,76.5 C331.5,78.4 332.6,83.9 333.8,86.8 C335.0,89.7 336.2,93.7 337.3,93.7 C338.4,93.7 339.4,90.1 340.7,86.8 C342.0,83.5 343.8,77.4 345.3,74.1 C346.9,70.8 348.8,68.5 350.0,67.2 C351.2,65.9 351.6,65.7 352.7,66.1 C353.8,66.5 355.4,67.2 356.9,69.5 C358.4,71.8 360.0,76.6 361.5,79.9 C363.0,83.2 365.0,87.4 366.1,89.1 C367.2,90.8 367.4,90.9 368.4,90.3 C369.3,89.7 369.9,89.3 371.8,85.7 C373.7,82.1 377.0,74.0 379.9,68.4 C382.8,62.8 386.4,57.1 389.1,52.3 C391.8,47.5 393.9,42.8 396.0,39.6 C398.1,36.5 400.1,34.0 401.8,33.4 C403.5,32.8 404.7,33.3 406.4,36.1 C408.1,38.9 410.5,45.8 412.2,50.0 C413.9,54.2 415.8,58.1 416.8,61.5 C417.8,64.9 417.3,69.5 418.1,70.4 C418.9,71.3 420.1,68.6 421.5,66.9 C422.9,65.2 424.3,61.9 426.2,60.5 C428.1,59.1 430.4,58.9 433.1,58.8 C435.8,58.7 439.6,60.0 442.3,60.0 C445.0,60.0 447.3,61.7 449.2,59.0 C451.1,56.3 452.2,49.0 453.8,43.8 C455.4,38.6 456.8,32.3 458.5,27.7 C460.2,23.1 462.8,18.5 464.2,16.2 C465.6,13.9 466.0,13.8 467.2,13.8 C468.4,13.8 469.6,14.3 471.2,16.2 C472.8,18.1 474.8,22.1 476.9,25.4 C479.0,28.7 482.1,33.8 483.8,35.8 C485.5,37.8 486.0,38.0 487.3,37.6 C488.6,37.2 490.4,34.9 491.9,33.5 C493.4,32.1 495.1,30.3 496.5,29.5 C497.9,28.7 498.8,28.5 500.0,28.8 C501.2,29.1 502.5,30.2 503.5,31.2 C504.5,32.2 505.4,34.0 505.8,34.6" fill="none" stroke="#4ee04e" stroke-width="0.9"/>
<path d="M328.2,154.6 L505.6,96.6" stroke="#9c8a3c" stroke-width="1.6"/>
<text x="296" y="26.3" font-family="Liberation Sans, sans-serif" font-weight="bold" font-size="17.4" fill="#111">b</text>
<text x="347.6" y="27.1" font-family="Liberation Sans, sans-serif" font-size="12.4" fill="#111">Path</text>
<text x="401.2" y="15.5" font-family="Liberation Sans, sans-serif" font-size="12.4" fill="#111">Energy</text>
<text x="383.5" y="30.4" font-family="Liberation Sans, sans-serif" font-size="12.4" fill="#111">Consumption</text>
<path d="M362,30.6 L355,58" stroke="#111" stroke-width="1.1"/><path d="M351.8,56.5 L353.9,63 L357.8,58 Z" fill="#111"/>
<path d="M427.6,34.5 L423.2,73" stroke="#e41e1e" stroke-width="1.1"/><path d="M420.2,72 L422.7,78.2 L425.9,72.6 Z" fill="#e41e1e"/>
<rect x="4.5" y="174.5" width="258" height="168" fill="none" stroke="#a49ad6" stroke-width="1"/>
<rect x="39.8" y="190.8" width="197.9" height="131.6" fill="none" stroke="#c8c8c8" stroke-width="0.9"/>
<path d="M48.9,202.2 C49.1,204.0 50.2,216.2 50.5,220.0 C50.8,223.8 51.3,235.0 51.5,240.0 C51.7,245.0 52.2,265.0 52.4,270.0 C52.6,275.0 52.9,287.0 53.1,290.0 C53.3,293.0 54.1,298.3 54.2,300.0 C54.4,301.7 54.2,306.0 54.6,306.7 C55.0,307.4 57.8,307.4 58.2,306.7 C58.6,306.0 58.5,301.7 58.6,300.0 C58.7,298.3 59.1,292.8 59.3,290.0 C59.5,287.2 60.1,276.5 60.3,272.0 C60.5,267.5 61.3,250.2 61.5,245.0 C61.7,239.8 62.4,224.3 62.6,220.0 C62.8,215.7 63.7,204.0 63.8,202.2Z" fill="#0b70bf" stroke="#9a5a30" stroke-width="0.7"/><path d="M49.0,202.2 C49.2,204.0 50.3,216.2 50.6,220.0 C50.9,223.8 51.4,235.8 51.6,240.0 C51.8,244.2 52.3,258.5 52.5,262.0 C52.7,265.5 53.2,273.2 53.5,275.0 C53.8,276.8 55.1,279.3 55.5,279.8 C55.9,280.3 56.9,280.3 57.3,279.8 C57.7,279.3 58.9,276.8 59.2,275.0 C59.5,273.2 60.2,265.5 60.4,262.0 C60.6,258.5 61.2,244.2 61.4,240.0 C61.6,235.8 62.3,223.8 62.5,220.0 C62.7,216.2 63.6,204.0 63.7,202.2Z" fill="#d9531a"/><path d="M49.1,202.2 C49.3,203.8 50.4,214.6 50.7,218.0 C51.0,221.4 51.4,233.0 51.7,236.0 C52.0,239.0 52.9,246.3 53.3,248.0 C53.7,249.7 55.2,252.7 55.6,253.2 C56.0,253.7 56.8,253.7 57.2,253.2 C57.6,252.7 59.1,249.7 59.5,248.0 C59.9,246.3 60.9,239.0 61.2,236.0 C61.5,233.0 62.2,221.4 62.4,218.0 C62.6,214.6 63.5,203.8 63.6,202.2Z" fill="#edb021"/><path d="M49.2,202.2 C49.4,203.2 50.6,210.1 50.9,212.0 C51.2,213.9 52.1,219.6 52.5,221.0 C52.9,222.4 54.0,225.7 54.6,226.2 C55.2,226.7 58.0,226.7 58.6,226.2 C59.2,225.7 60.2,222.4 60.6,221.0 C61.0,219.6 61.9,213.9 62.2,212.0 C62.5,210.1 63.4,203.2 63.5,202.2Z" fill="#7e2f8e"/>
<path d="M79.4,202.2 C79.5,203.5 80.1,211.6 80.3,215.0 C80.5,218.4 81.1,232.5 81.3,236.0 C81.5,239.5 81.9,247.3 82.1,250.0 C82.3,252.7 83.1,260.4 83.4,263.0 C83.7,265.6 84.9,273.4 85.4,275.9 C85.9,278.4 87.4,287.8 88.0,288.2 C88.6,288.6 90.9,281.3 91.8,279.8 C92.7,278.3 96.0,274.1 97.0,273.3 C98.0,272.5 101.3,271.4 102.2,271.4 C103.1,271.4 105.4,272.7 106.1,273.3 C106.8,273.9 109.0,278.0 109.6,277.6 C110.2,277.2 111.6,271.5 111.9,269.4 C112.2,267.3 112.4,258.4 112.6,256.5 C112.8,254.6 113.6,252.1 113.9,250.0 C114.2,247.9 115.7,239.0 116.0,236.0 C116.3,233.0 117.0,223.4 117.3,220.0 C117.5,216.6 118.4,204.0 118.5,202.2Z" fill="#0b70bf" stroke="#9a5a30" stroke-width="0.7"/><path d="M79.5,202.2 C79.6,203.5 80.2,211.6 80.4,215.0 C80.6,218.4 81.2,232.5 81.4,236.0 C81.6,239.5 82.0,247.7 82.3,250.0 C82.6,252.3 83.6,257.9 84.2,259.5 C84.8,261.1 87.4,265.7 88.0,266.2 C88.6,266.7 89.9,264.9 90.5,264.2 C91.1,263.5 93.5,260.1 94.4,259.1 C95.3,258.1 98.6,254.4 99.6,253.9 C100.6,253.4 103.9,253.6 104.8,253.9 C105.7,254.2 108.1,256.1 108.7,256.5 C109.3,256.9 110.2,258.1 110.6,257.8 C111.0,257.6 112.1,255.0 112.4,254.0 C112.7,253.0 113.5,249.8 113.8,248.0 C114.1,246.2 115.6,238.8 115.9,236.0 C116.2,233.2 117.0,223.4 117.2,220.0 C117.5,216.6 118.3,204.0 118.4,202.2Z" fill="#d9531a"/><path d="M79.6,202.2 C79.7,203.5 80.3,212.2 80.5,215.0 C80.7,217.8 81.2,227.9 81.5,230.0 C81.8,232.1 82.5,235.2 83.0,236.0 C83.5,236.8 85.3,238.3 86.0,238.5 C86.7,238.7 89.2,238.4 90.0,238.3 C90.8,238.2 93.2,237.8 94.0,237.6 C94.8,237.4 97.2,236.5 98.0,236.3 C98.8,236.1 101.2,235.9 102.0,236.0 C102.8,236.1 104.8,236.9 105.5,237.2 C106.2,237.4 108.2,238.5 108.7,238.5 C109.2,238.5 110.6,237.8 111.0,237.5 C111.4,237.2 112.5,235.9 113.0,235.0 C113.5,234.1 115.4,229.5 115.8,228.0 C116.2,226.5 116.8,222.6 117.1,220.0 C117.3,217.4 118.2,204.0 118.3,202.2Z" fill="#edb021"/><path d="M79.7,202.2 C79.8,202.8 80.4,206.9 80.6,208.0 C80.8,209.1 80.9,212.2 81.3,213.3 C81.7,214.4 83.7,217.7 84.2,218.5 C84.7,219.3 85.9,221.0 86.5,221.3 C87.1,221.6 89.2,222.0 90.0,221.9 C90.8,221.8 93.6,220.5 94.6,220.2 C95.6,219.9 99.1,219.1 100.3,219.0 C101.5,218.9 105.1,219.5 106.1,219.6 C107.1,219.7 109.9,220.5 110.7,220.2 C111.5,219.9 113.6,217.5 114.2,216.7 C114.8,215.9 116.2,213.1 116.5,212.1 C116.8,211.1 117.4,208.0 117.6,207.0 C117.8,206.0 118.1,202.7 118.2,202.2Z" fill="#7e2f8e"/>
<path d="M133.3,202.2 C133.4,203.2 134.4,209.2 134.6,212.0 C134.8,214.8 135.4,226.4 135.6,230.0 C135.8,233.6 136.7,244.8 137.0,248.0 C137.3,251.2 138.3,259.8 138.6,262.0 C138.9,264.2 139.7,270.5 140.0,270.5 C140.3,270.5 141.1,264.2 141.4,262.0 C141.7,259.8 142.7,251.2 143.0,248.0 C143.3,244.8 144.3,233.6 144.6,230.0 C144.9,226.4 145.6,214.8 146.0,212.0 C146.4,209.2 148.4,203.2 148.7,202.2Z" fill="#0b70bf" stroke="#9a5a30" stroke-width="0.7"/><path d="M133.4,202.2 C133.5,203.2 134.5,209.2 134.7,212.0 C134.9,214.8 135.4,226.6 135.7,230.0 C136.0,233.4 136.9,243.8 137.3,246.0 C137.7,248.2 139.5,252.5 140.0,252.5 C140.5,252.5 142.2,248.2 142.7,246.0 C143.1,243.8 144.2,233.4 144.5,230.0 C144.8,226.6 145.5,214.8 145.9,212.0 C146.3,209.2 148.3,203.2 148.6,202.2Z" fill="#d9531a"/><path d="M133.5,202.2 C133.6,203.1 134.5,208.8 134.8,211.0 C135.1,213.2 135.9,222.1 136.2,224.0 C136.5,225.9 137.4,229.6 137.8,230.5 C138.2,231.4 139.6,233.0 140.0,233.0 C140.4,233.0 141.8,231.4 142.2,230.5 C142.6,229.6 143.6,225.9 144.0,224.0 C144.4,222.1 145.4,213.2 145.8,211.0 C146.2,208.8 148.2,203.1 148.5,202.2Z" fill="#edb021"/><path d="M133.6,202.2 C133.8,202.7 134.8,205.9 135.2,207.0 C135.6,208.1 136.7,212.4 137.2,213.5 C137.7,214.6 139.6,217.5 140.2,217.5 C140.8,217.5 142.5,214.6 143.0,213.5 C143.5,212.4 144.7,208.1 145.2,207.0 C145.7,205.9 148.1,202.7 148.4,202.2Z" fill="#7e2f8e"/>
<path d="M164.7,202.2 C164.8,202.3 166.4,205.7 166.5,206.0 C166.6,206.3 167.5,211.3 167.6,212.0 C167.7,212.7 168.0,225.6 168.0,227.0 C168.0,228.4 168.5,251.2 168.5,253.0 C168.5,254.8 169.3,278.2 169.4,280.0 C169.5,281.8 170.5,305.8 170.9,306.7 C171.3,307.6 180.0,307.6 180.3,306.7 C180.7,305.8 181.3,281.8 181.4,280.0 C181.5,278.2 182.2,254.8 182.3,253.0 C182.4,251.2 183.0,228.4 183.0,227.0 C183.0,225.6 183.5,212.7 183.6,212.0 C183.7,211.3 184.4,206.3 184.5,206.0 C184.6,205.7 185.6,202.3 185.6,202.2Z" fill="#0b70bf" stroke="#9a5a30" stroke-width="0.7"/><path d="M164.8,202.2 C164.9,202.3 166.5,205.7 166.6,206.0 C166.7,206.3 167.6,211.3 167.7,212.0 C167.8,212.7 168.1,225.6 168.1,227.0 C168.1,228.4 168.6,251.2 168.6,253.0 C168.6,254.8 169.1,278.9 169.5,279.8 C169.9,280.7 180.9,280.7 181.3,279.8 C181.7,278.9 182.1,254.8 182.2,253.0 C182.3,251.2 182.9,228.4 182.9,227.0 C182.9,225.6 183.4,212.7 183.5,212.0 C183.6,211.3 184.3,206.3 184.4,206.0 C184.5,205.7 185.5,202.3 185.5,202.2Z" fill="#d9531a"/><path d="M164.9,202.2 C165.0,202.3 166.6,205.7 166.7,206.0 C166.8,206.3 167.8,211.3 167.8,212.0 C167.9,212.7 168.2,225.6 168.2,227.0 C168.2,228.4 168.2,252.9 168.7,253.8 C169.2,254.7 181.6,254.7 182.1,253.8 C182.6,252.9 182.8,228.4 182.8,227.0 C182.8,225.6 183.3,212.7 183.4,212.0 C183.5,211.3 184.2,206.3 184.3,206.0 C184.4,205.7 185.4,202.3 185.4,202.2Z" fill="#edb021"/><path d="M165.0,202.2 C165.1,202.3 166.7,205.6 166.8,206.0 C166.9,206.4 167.8,212.3 167.9,213.0 C168.0,213.7 169.0,226.5 169.5,227.0 C170.0,227.5 181.0,227.5 181.5,227.0 C182.0,226.5 183.1,213.7 183.2,213.0 C183.3,212.3 184.1,206.4 184.2,206.0 C184.3,205.6 185.3,202.3 185.3,202.2Z" fill="#7e2f8e"/>
<path d="M204.4,202.2 C204.6,203.0 205.9,207.7 206.2,210.0 C206.5,212.3 207.0,222.5 207.2,225.0 C207.4,227.5 208.2,233.2 208.5,235.0 C208.8,236.8 210.1,241.9 210.4,243.0 C210.7,244.1 211.5,245.9 211.8,245.9 C212.1,245.9 212.9,244.1 213.2,243.0 C213.5,241.9 214.6,236.8 214.8,235.0 C215.0,233.2 215.4,227.5 215.6,225.0 C215.8,222.5 216.3,212.3 216.6,210.0 C216.9,207.7 218.2,203.0 218.4,202.2Z" fill="#0b70bf" stroke="#9a5a30" stroke-width="0.7"/><path d="M204.5,202.2 C204.7,203.0 206.0,207.7 206.3,210.0 C206.6,212.3 207.0,222.8 207.3,225.0 C207.6,227.2 209.1,231.5 209.5,232.5 C209.9,233.5 211.4,234.6 211.8,234.6 C212.2,234.6 213.6,233.5 214.0,232.5 C214.4,231.5 215.2,227.2 215.5,225.0 C215.8,222.8 216.2,212.3 216.5,210.0 C216.8,207.7 218.1,203.0 218.3,202.2Z" fill="#d9531a"/><path d="M204.6,202.2 C204.8,203.0 206.1,208.4 206.4,210.0 C206.7,211.6 207.5,216.8 207.8,218.0 C208.1,219.2 209.4,221.5 209.8,222.0 C210.2,222.5 211.4,223.4 211.8,223.4 C212.2,223.4 213.4,222.5 213.8,222.0 C214.2,221.5 215.1,219.2 215.4,218.0 C215.7,216.8 216.1,211.6 216.4,210.0 C216.7,208.4 218.0,203.0 218.2,202.2Z" fill="#edb021"/><path d="M204.7,202.2 C204.9,202.6 206.1,205.3 206.5,206.0 C206.9,206.7 208.0,209.0 208.5,209.5 C209.0,210.0 210.9,211.2 211.5,211.2 C212.1,211.2 214.0,210.0 214.5,209.5 C215.0,209.0 215.9,206.7 216.3,206.0 C216.7,205.3 217.9,202.6 218.1,202.2Z" fill="#7e2f8e"/>
<path d="M39.8,202.2 H226.6" stroke="#8c4a1e" stroke-width="2"/>
<path d="M40.3,322.4 v-1.6 M40.3,190.8 v1.6" stroke="#888" stroke-width="0.7"/>
<path d="M105.8,322.4 v-1.6 M105.8,190.8 v1.6" stroke="#888" stroke-width="0.7"/>
<path d="M171.3,322.4 v-1.6 M171.3,190.8 v1.6" stroke="#888" stroke-width="0.7"/>
<path d="M236.8,322.4 v-1.6 M236.8,190.8 v1.6" stroke="#888" stroke-width="0.7"/>
<path d="M39.8,202.2 h1.6 M237.7,202.2 h-1.6" stroke="#888" stroke-width="0.7"/>
<path d="M39.8,252.2 h1.6 M237.7,252.2 h-1.6" stroke="#888" stroke-width="0.7"/>
<path d="M39.8,302.2 h1.6 M237.7,302.2 h-1.6" stroke="#888" stroke-width="0.7"/>
<text x="34.6" y="207.6" text-anchor="end" font-family="Liberation Sans, sans-serif" font-size="14" fill="#111" stroke="#111" stroke-width="0.35">0</text>
<text x="34.9" y="258.3" text-anchor="end" font-family="Liberation Sans, sans-serif" font-size="14" fill="#111" stroke="#111" stroke-width="0.35">50</text>
<text transform="translate(11.9 258.3) scale(0.78 1)" font-family="Liberation Sans, sans-serif" font-size="14" fill="#111" stroke="#111" stroke-width="0.35">−</text>
<text x="34.6" y="307.6" text-anchor="end" font-family="Liberation Sans, sans-serif" font-size="14" fill="#111" stroke="#111" stroke-width="0.35">100</text>
<text transform="translate(6.0 307.6) scale(0.78 1)" font-family="Liberation Sans, sans-serif" font-size="14" fill="#111" stroke="#111" stroke-width="0.35">−</text>
<text x="40.3" y="340.6" text-anchor="middle" font-family="Liberation Sans, sans-serif" font-size="14" fill="#111" stroke="#111" stroke-width="0.35">0</text>
<text x="105.8" y="340.6" text-anchor="middle" font-family="Liberation Sans, sans-serif" font-size="14" fill="#111" stroke="#111" stroke-width="0.35">50</text>
<text x="171.3" y="340.6" text-anchor="middle" font-family="Liberation Sans, sans-serif" font-size="14" fill="#111" stroke="#111" stroke-width="0.35">100</text>
<text x="236.8" y="340.6" text-anchor="middle" font-family="Liberation Sans, sans-serif" font-size="14" fill="#111" stroke="#111" stroke-width="0.35">150</text>
<text transform="translate(15.4 189.1) scale(0.95 1)" font-family="Liberation Sans, sans-serif" font-weight="bold" font-size="17" fill="#111">c</text>
<rect x="186.3" y="251.4" width="51.3" height="67.5" fill="#fff" stroke="#c8c8c8" stroke-width="0.9"/>
<rect x="188.1" y="256.5" width="18" height="10" fill="#0b70bf"/>
<text x="210.6" y="266.9" font-family="Liberation Sans, sans-serif" font-size="14" fill="#111" stroke="#111" stroke-width="0.35">k=4</text>
<rect x="188.1" y="273.2" width="18" height="10" fill="#d9531a"/>
<text x="210.6" y="283.6" font-family="Liberation Sans, sans-serif" font-size="14" fill="#111" stroke="#111" stroke-width="0.35">k=3</text>
<rect x="188.1" y="290.0" width="18" height="10" fill="#edb021"/>
<text x="210.6" y="300.4" font-family="Liberation Sans, sans-serif" font-size="14" fill="#111" stroke="#111" stroke-width="0.35">k=2</text>
<rect x="188.1" y="306.8" width="18" height="10" fill="#7e2f8e"/>
<text x="210.6" y="317.1" font-family="Liberation Sans, sans-serif" font-size="14" fill="#111" stroke="#111" stroke-width="0.35">k=1</text>
<clipPath id="cD"><rect x="288" y="174" width="258" height="169"/></clipPath>
<radialGradient id="gDome" gradientUnits="userSpaceOnUse" cx="0" cy="0" r="1" gradientTransform="translate(456 200) scale(128 126)"><stop offset="0" stop-color="#fa3cfa"/><stop offset="0.22" stop-color="#e640f4"/><stop offset="0.36" stop-color="#b450f0"/><stop offset="0.52" stop-color="#8c62f0"/><stop offset="0.68" stop-color="#6c80f2"/><stop offset="0.84" stop-color="#4aaaf0"/><stop offset="1" stop-color="#38d2e8"/></radialGradient>
<clipPath id="cDome"><path d="M370.0,232.0 C369.5,225.3 368.8,219.7 369.0,215.0 C369.2,210.3 369.2,206.8 371.0,204.0 C372.8,201.2 375.2,200.0 380.0,198.5 C384.8,197.0 390.3,196.2 400.0,195.0 C409.7,193.8 426.5,191.5 438.0,191.2 C449.5,190.9 458.8,191.4 469.0,193.0 C479.2,194.6 491.3,197.7 499.0,200.5 C506.7,203.3 510.7,206.4 515.0,210.0 C519.3,213.6 522.5,216.2 525.0,222.0 C527.5,227.8 529.2,237.0 530.0,245.0 C530.8,253.0 530.5,262.2 530.0,270.0 C529.5,277.8 529.0,285.3 527.0,292.0 C525.0,298.7 523.3,305.3 518.0,310.0 C512.7,314.7 508.0,318.0 495.0,320.0 C482.0,322.0 455.0,322.7 440.0,322.0 C425.0,321.3 413.7,319.3 405.0,316.0 C396.3,312.7 392.5,308.0 388.0,302.0 C383.5,296.0 380.7,287.8 378.0,280.0 C375.3,272.2 373.3,263.0 372.0,255.0 C370.7,247.0 370.5,238.7 370.0,232.0Z"/></clipPath>
<g clip-path="url(#cD)">
<rect x="288" y="174" width="258" height="169" fill="#38e0ee"/>
<g filter="url(#b3)"><ellipse cx="303" cy="210" rx="7" ry="18" transform="rotate(0 303 210)" fill="#0a4a56" opacity="0.3"/><ellipse cx="306" cy="273" rx="20" ry="9" transform="rotate(0 306 273)" fill="#0e5a66" opacity="0.35"/><ellipse cx="307" cy="296" rx="14" ry="12" transform="rotate(0 307 296)" fill="#38d4e6" opacity="0.5"/><ellipse cx="343" cy="283" rx="13" ry="18" transform="rotate(0 343 283)" fill="#3cecd8" opacity="0.7"/><ellipse cx="346" cy="305" rx="10" ry="2.6" transform="rotate(0 346 305)" fill="#04262c" opacity="0.85"/><ellipse cx="360" cy="272" rx="6" ry="26" transform="rotate(0 360 272)" fill="#0a4a56" opacity="0.4"/><ellipse cx="318" cy="330" rx="40" ry="10" transform="rotate(0 318 330)" fill="#1a9ca8" opacity="0.5"/><ellipse cx="540" cy="265" rx="10" ry="32" transform="rotate(0 540 265)" fill="#0a3a44" opacity="0.8"/></g>
<g filter="url(#b2)"><g clip-path="url(#cDome)"><rect x="350" y="180" width="190" height="160" fill="url(#gDome)"/><ellipse cx="388" cy="210" rx="16" ry="9" fill="#3a2a8a" opacity="0.3" filter="url(#b3)"/><ellipse cx="368" cy="270" rx="4" ry="40" fill="#0a3a50" opacity="0.35" filter="url(#b3)"/><ellipse cx="528" cy="262" rx="9" ry="40" fill="#0a2a3a" opacity="0.75" filter="url(#b3)"/><rect x="350" y="300" width="190" height="40" fill="#30c8d8" opacity="0.6" filter="url(#b3)"/></g></g>
<path d="M368.0,203.0 C368.5,201.7 371.7,199.4 375.0,198.0 C378.3,196.6 382.7,195.6 388.0,194.8 C393.3,194.0 398.7,193.9 407.0,193.2 C415.3,192.5 427.7,190.7 438.0,190.6 C448.3,190.5 458.8,190.9 469.0,192.4 C479.2,193.9 491.3,197.0 499.0,199.8 C506.7,202.6 510.7,205.7 515.0,209.3 C519.3,212.9 523.3,219.2 525.0,221.3 C526.7,223.4 526.7,223.9 525.0,222.0 C523.3,220.1 519.3,213.5 515.0,210.0 C510.7,206.5 506.7,203.7 499.0,201.0 C491.3,198.3 477.2,195.1 469.0,193.6 C460.8,192.1 456.2,192.1 450.0,192.2 C443.8,192.3 437.3,193.2 432.0,194.0 C426.7,194.8 422.5,196.0 418.0,196.8 C413.5,197.6 409.3,198.1 405.0,199.0 C400.7,199.9 396.2,201.1 392.0,202.0 C387.8,202.9 383.3,203.8 380.0,204.5 C376.7,205.2 374.0,206.2 372.0,206.0 C370.0,205.8 367.5,204.3 368.0,203.0Z" fill="#050a14" opacity="0.92" filter="url(#b1)"/>
<path d="M288.5,174V343M290.5,174V343M292.5,174V343M294.5,174V343M296.5,174V343M298.5,174V343M300.5,174V343M302.5,174V343M304.5,174V343M306.5,174V343M308.5,174V343M310.5,174V343M312.5,174V343M314.5,174V343M316.5,174V343M318.5,174V343M320.5,174V343M322.5,174V343M324.5,174V343M326.5,174V343M328.5,174V343M330.5,174V343M332.5,174V343M334.5,174V343M336.5,174V343M338.5,174V343M340.5,174V343M342.5,174V343M344.5,174V343M346.5,174V343M348.5,174V343M350.5,174V343M352.5,174V343M354.5,174V343M356.5,174V343M358.5,174V343M360.5,174V343M362.5,174V343M364.5,174V343M366.5,174V343M368.5,174V343M370.5,174V343M372.5,174V343M374.5,174V343M376.5,174V343M378.5,174V343M380.5,174V343M382.5,174V343M384.5,174V343M386.5,174V343M388.5,174V343M390.5,174V343M392.5,174V343M394.5,174V343M396.5,174V343M398.5,174V343M400.5,174V343M402.5,174V343M404.5,174V343M406.5,174V343M408.5,174V343M410.5,174V343M412.5,174V343M414.5,174V343M416.5,174V343M418.5,174V343M420.5,174V343M422.5,174V343M424.5,174V343M426.5,174V343M428.5,174V343M430.5,174V343M432.5,174V343M434.5,174V343M436.5,174V343M438.5,174V343M440.5,174V343M442.5,174V343M444.5,174V343M446.5,174V343M448.5,174V343M450.5,174V343M452.5,174V343M454.5,174V343M456.5,174V343M458.5,174V343M460.5,174V343M462.5,174V343M464.5,174V343M466.5,174V343M468.5,174V343M470.5,174V343M472.5,174V343M474.5,174V343M476.5,174V343M478.5,174V343M480.5,174V343M482.5,174V343M484.5,174V343M486.5,174V343M488.5,174V343M490.5,174V343M492.5,174V343M494.5,174V343M496.5,174V343M498.5,174V343M500.5,174V343M502.5,174V343M504.5,174V343M506.5,174V343M508.5,174V343M510.5,174V343M512.5,174V343M514.5,174V343M516.5,174V343M518.5,174V343M520.5,174V343M522.5,174V343M524.5,174V343M526.5,174V343M528.5,174V343M530.5,174V343M532.5,174V343M534.5,174V343M536.5,174V343M538.5,174V343M540.5,174V343M542.5,174V343M544.5,174V343M546.5,174V343" stroke="#000" stroke-width="1" opacity="0.42"/>
<path d="M288,175.5H546M288,177.5H546M288,179.5H546M288,181.5H546M288,183.5H546M288,185.5H546M288,187.5H546M288,189.5H546M288,191.5H546M288,193.5H546M288,195.5H546M288,197.5H546M288,199.5H546M288,201.5H546M288,203.5H546M288,205.5H546M288,207.5H546M288,209.5H546M288,211.5H546M288,213.5H546M288,215.5H546M288,217.5H546M288,219.5H546M288,221.5H546M288,223.5H546M288,225.5H546M288,227.5H546M288,229.5H546M288,231.5H546M288,233.5H546M288,235.5H546M288,237.5H546M288,239.5H546M288,241.5H546M288,243.5H546M288,245.5H546M288,247.5H546M288,249.5H546M288,251.5H546M288,253.5H546M288,255.5H546M288,257.5H546M288,259.5H546M288,261.5H546M288,263.5H546M288,265.5H546M288,267.5H546M288,269.5H546M288,271.5H546M288,273.5H546M288,275.5H546M288,277.5H546M288,279.5H546M288,281.5H546M288,283.5H546M288,285.5H546M288,287.5H546M288,289.5H546M288,291.5H546M288,293.5H546M288,295.5H546M288,297.5H546M288,299.5H546M288,301.5H546M288,303.5H546M288,305.5H546M288,307.5H546M288,309.5H546M288,311.5H546M288,313.5H546M288,315.5H546M288,317.5H546M288,319.5H546M288,321.5H546M288,323.5H546M288,325.5H546M288,327.5H546M288,329.5H546M288,331.5H546M288,333.5H546M288,335.5H546M288,337.5H546M288,339.5H546M288,341.5H546M288,343.5H546" stroke="#000" stroke-width="1" opacity="0.24"/>
<g filter="url(#b2)" opacity="0.22"><g clip-path="url(#cDome)"><rect x="350" y="196" width="190" height="140" fill="url(#gDome)"/></g></g>
</g>
<path d="M288.5,174.5 V343 M288,174.5 H546" stroke="#34287a" stroke-width="1"/>
<rect x="292.1" y="177.1" width="21.7" height="16.9" fill="#fff"/>
<text x="297.4" y="190.8" font-family="Liberation Sans, sans-serif" font-size="17.2" fill="#111" stroke="#111" stroke-width="0.3">d</text>
<path d="M320.0,191.3 C321.1,192.7 325.0,197.0 326.5,199.9 C328.0,202.8 328.5,205.2 329.1,208.9 C329.8,212.6 330.0,217.6 330.4,221.9 C330.8,226.2 331.3,231.0 331.7,234.9 C332.1,238.8 332.1,242.3 333.0,245.3 C333.9,248.3 335.2,251.2 336.9,253.1 C338.6,255.0 340.8,255.6 343.4,257.0 C346.0,258.4 349.2,259.7 352.5,261.5 C355.8,263.3 360.5,265.6 362.9,268.0 C365.3,270.4 366.0,272.8 366.8,275.8 C367.6,278.8 367.1,283.3 367.6,286.2 C368.1,289.1 368.6,290.5 370.0,293.0 C371.4,295.5 374.0,298.8 376.0,301.0 C378.0,303.2 379.8,304.7 382.0,306.4 C384.2,308.1 386.0,310.0 389.0,311.0 C392.0,312.0 394.8,312.0 400.0,312.2 C405.2,312.4 410.0,312.3 420.0,312.3 C430.0,312.3 446.6,312.3 460.0,312.3 C473.4,312.3 491.8,311.2 500.7,312.5 C509.6,313.8 511.5,318.6 513.7,319.8" fill="none" stroke="#8a3ab4" stroke-width="3" stroke-dasharray="9 2.5 5.5 2.5"/>
<path d="M320.0,191.3 C321.3,193.0 326.1,197.6 327.8,201.2 C329.5,204.8 329.8,208.9 330.4,212.8 C331.0,216.7 331.0,220.8 331.7,224.5 C332.4,228.2 333.0,231.9 334.3,234.9 C335.6,237.9 337.3,240.8 339.5,242.7 C341.7,244.6 344.3,245.3 347.3,246.6 C350.3,247.9 354.2,249.2 357.7,250.5 C361.2,251.8 364.6,253.5 368.1,254.4 C371.6,255.3 375.1,255.9 378.5,255.7 C381.9,255.5 385.4,254.2 388.8,253.1 C392.2,252.0 395.7,250.1 399.2,249.2 C402.7,248.3 406.9,247.8 409.6,247.9 C412.3,248.0 413.4,249.0 415.2,250.0 C417.0,251.0 418.2,251.9 420.4,254.0 C422.5,256.1 425.5,260.0 428.1,262.8 C430.7,265.6 433.3,267.6 435.9,270.6 C438.5,273.6 441.1,277.4 443.7,280.9 C446.3,284.3 448.9,287.8 451.5,291.3 C454.1,294.8 457.2,298.9 459.3,301.7 C461.4,304.5 462.2,306.6 464.4,308.1 C466.5,309.6 468.3,310.1 472.2,310.7 C476.1,311.3 483.1,311.6 487.8,312.0 C492.6,312.4 496.4,312.0 500.7,313.3 C505.0,314.6 511.5,318.7 513.7,319.8" fill="none" stroke="#f6b81c" stroke-width="3" stroke-dasharray="9 2.5 5.5 2.5"/>
<path d="M320.0,191.3 C321.1,192.5 324.1,196.1 326.5,198.6 C328.9,201.1 331.7,203.9 334.3,206.3 C336.9,208.7 339.5,210.6 342.1,212.8 C344.7,215.0 347.3,217.8 349.9,219.3 C352.5,220.8 355.5,221.7 357.7,221.9 C359.9,222.1 360.7,221.2 362.9,220.6 C365.1,219.9 367.7,218.5 370.7,218.0 C373.7,217.5 377.2,217.5 381.1,217.5 C385.0,217.5 389.7,218.1 394.0,218.0 C398.3,217.9 403.0,217.1 407.0,216.7 C411.0,216.3 414.7,215.9 417.8,215.4 C420.9,214.9 423.0,213.6 425.6,213.6 C428.2,213.6 430.7,214.2 433.3,215.4 C435.9,216.6 438.5,218.4 441.1,220.6 C443.7,222.8 446.7,225.9 448.9,228.3 C451.1,230.7 452.4,232.0 454.1,234.8 C455.8,237.6 457.8,242.2 459.3,245.2 C460.8,248.2 461.2,249.6 463.1,253.0 C465.0,256.4 468.1,261.2 470.9,265.4 C473.7,269.6 477.2,274.0 480.0,278.3 C482.8,282.6 485.2,287.4 487.8,291.3 C490.4,295.2 492.8,298.2 495.6,301.7 C498.4,305.1 501.6,309.0 504.6,312.0 C507.6,315.0 512.2,318.5 513.7,319.8" fill="none" stroke="#1010ee" stroke-width="3" stroke-dasharray="9 2.5 5.5 2.5"/>
<path d="M320.0,191.3 C320.7,192.1 322.1,194.1 324.0,196.0 C325.9,197.9 328.9,199.9 331.7,202.5 C334.5,205.1 337.8,208.9 340.8,211.5 C343.8,214.1 347.1,216.6 349.9,218.0 C352.7,219.4 355.3,219.9 357.7,220.1 C360.1,220.3 362.7,219.0 364.2,219.3 C365.7,219.6 366.1,220.4 366.8,221.9 C367.5,223.4 367.0,226.7 368.1,228.4 C369.2,230.1 371.1,231.3 373.3,232.3 C375.5,233.3 378.5,234.0 381.1,234.4 C383.7,234.8 385.8,235.0 388.8,234.9 C391.8,234.8 395.7,234.2 399.2,233.6 C402.7,232.9 406.5,231.7 409.6,231.0 C412.7,230.3 415.1,229.2 417.8,229.6 C420.5,230.0 423.0,232.0 425.6,233.5 C428.2,235.0 431.2,236.8 433.3,238.7 C435.4,240.6 436.3,242.8 438.5,245.2 C440.7,247.6 444.1,251.4 446.3,253.0 C448.5,254.6 449.3,254.7 451.5,255.0 C453.7,255.3 456.9,254.5 459.3,255.0 C461.7,255.5 463.8,256.7 465.7,258.2 C467.6,259.7 468.9,261.4 470.9,264.1 C472.8,266.8 475.0,270.7 477.4,274.4 C479.8,278.1 482.6,282.2 485.2,286.1 C487.8,290.0 490.4,294.1 493.0,297.8 C495.6,301.5 498.1,305.1 500.7,308.1 C503.3,311.1 505.9,313.7 508.5,315.9 C511.1,318.1 515.0,320.2 516.3,321.1" fill="none" stroke="#ee6a24" stroke-width="3" stroke-dasharray="9 2.5 5.5 2.5"/>
<circle cx="320.1" cy="191.3" r="3.2" fill="#f41414"/>
<circle cx="517.5" cy="321.7" r="3.6" fill="#22ee22" stroke="#0a8a0a" stroke-width="0.5"/>
<rect x="482.1" y="179.9" width="55.5" height="67.4" fill="#2e7c88" fill-opacity="0.92" stroke="#c8dadc" stroke-width="0.7"/>
<path d="M486.5,190.2 H498.5 M502.5,190.2 H508" stroke="#1010ee" stroke-width="2.8"/>
<text x="512.6" y="194.2" font-family="Liberation Sans, sans-serif" font-weight="bold" font-size="11" fill="#fff">K=1</text>
<path d="M486.5,206.4 H498.5 M502.5,206.4 H508" stroke="#ee6a24" stroke-width="2.8"/>
<text x="512.6" y="210.4" font-family="Liberation Sans, sans-serif" font-weight="bold" font-size="11" fill="#fff">K=2</text>
<path d="M486.5,222.6 H498.5 M502.5,222.6 H508" stroke="#f6b81c" stroke-width="2.8"/>
<text x="512.6" y="226.6" font-family="Liberation Sans, sans-serif" font-weight="bold" font-size="11" fill="#fff">K=3</text>
<path d="M486.5,238.8 H498.5 M502.5,238.8 H508" stroke="#8a3ab4" stroke-width="2.8"/>
<text x="512.6" y="242.8" font-family="Liberation Sans, sans-serif" font-weight="bold" font-size="11" fill="#fff">K=4</text>
</svg></body></html>
